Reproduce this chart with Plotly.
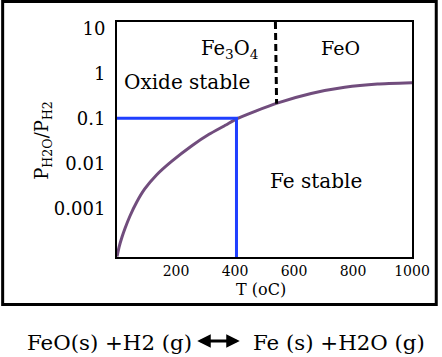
import plotly.graph_objects as go

# Equilibrium curve P_H2O/P_H2 vs temperature
temps = [0, 7, 17, 27, 44, 67, 94, 134, 185, 255, 312, 369, 405, 470, 540, 658, 772, 883, 1007]
ratios = [8.5e-5, 1.38e-4, 2.30e-4, 3.56e-4, 6.75e-4, 1.38e-3, 2.69e-3, 5.50e-3, 0.011,
          0.0249, 0.0441, 0.071, 0.097, 0.145, 0.215, 0.356, 0.489, 0.578, 0.618]

# Operating point guide
op_T = 405
op_ratio = 0.1

# Fe3O4 / FeO boundary
bound_T = [537, 541]
bound_ratio = [13.8, 0.21]

x_ticks = [200, 400, 600, 800, 1000]
y_ticks = [0.001, 0.01, 0.1, 1, 10]
y_ticktext = ["0.001", "0.01", "0.1", "1", "10"]

FONT = "DejaVu Serif"

# layout geometry in pixels
L, R, T, B, W, H = 117, 415, 22, 257, 442, 357
PW, PH = R - L, B - T


def px(x):
    return (x - L) / PW


def py(y):
    return (B - y) / PH


fig = go.Figure()
fig.add_trace(go.Scatter(x=temps, y=ratios, mode="lines",
                         line=dict(color="#714d7d", width=3, shape="spline", smoothing=0.5),
                         cliponaxis=False, hoverinfo="skip"))
fig.add_trace(go.Scatter(x=[-4, op_T, op_T], y=[op_ratio, op_ratio, 8.3e-5], mode="lines",
                         line=dict(color="#1f3fff", width=3), cliponaxis=False,
                         hoverinfo="skip"))
fig.add_trace(go.Scatter(x=bound_T, y=bound_ratio, mode="lines",
                         line=dict(color="black", width=3, dash="7px,4px"),
                         hoverinfo="skip"))

fig.update_layout(
    width=W, height=H,
    margin=dict(l=L, r=W - R, t=T, b=H - B),
    paper_bgcolor="white", plot_bgcolor="white",
    showlegend=False,
    font=dict(family=FONT, color="black"),
)
fig.update_xaxes(range=[0, 1000], tickvals=x_ticks, showgrid=False, zeroline=False,
                 showline=True, linecolor="black", linewidth=2, mirror=True,
                 ticks="", tickfont=dict(size=14, family=FONT))
fig.update_yaxes(type="log", range=[-4.082, 1.140], tickvals=y_ticks, ticktext=y_ticktext,
                 showgrid=False, zeroline=False,
                 showline=True, linecolor="black", linewidth=2, mirror=True,
                 ticks="outside", ticklen=6, tickcolor="rgba(0,0,0,0)",
                 tickfont=dict(size=18, family=FONT))

ann = [
    dict(x=px(187.5), y=py(82), text="Oxide stable", font=dict(size=20)),
    dict(x=px(230.5), y=py(49), text="Fe<sub>3</sub>O<sub>4</sub>", font=dict(size=19.5)),
    dict(x=px(343), y=py(48), text="FeO", font=dict(size=19)),
    dict(x=px(318), y=py(181), text="Fe stable", font=dict(size=20)),
    dict(x=px(42), y=py(140), text="P<sub>H2O</sub>/P<sub>H2</sub>", textangle=-90,
         font=dict(size=18)),
    dict(x=px(262), y=py(289), text="T (oC)", font=dict(size=16)),
    dict(x=px(195), y=py(342), text="FeO(s) +H2 (g)", font=dict(size=21.3), xanchor="right"),
    dict(x=px(252), y=py(342), text="Fe (s) +H2O (g)", font=dict(size=21.3), xanchor="left"),
]
for a in ann:
    a.setdefault("xanchor", "center")
    fig.add_annotation(xref="paper", yref="paper", showarrow=False, yanchor="middle", **a)

# double arrow of the reaction
fig.add_annotation(xref="paper", yref="paper", x=px(241), y=py(341), ax=-44, ay=0,
                   text="", showarrow=True, arrowside="end+start", arrowhead=2,
                   arrowsize=0.9, arrowwidth=3, arrowcolor="black", standoff=0,
                   startstandoff=0)

# outer frame
fig.add_shape(type="rect", xref="paper", yref="paper",
              x0=px(1.5), x1=px(439.5), y0=py(304.5), y1=py(1.5),
              line=dict(color="black", width=3), fillcolor="rgba(0,0,0,0)")

fig.write_html("out.html", config={"displayModeBar": False},
               post_script="document.body.style.margin='0';")
